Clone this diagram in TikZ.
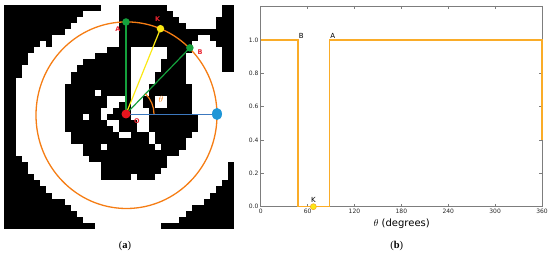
\documentclass[tikz,border=0pt]{standalone}
\usepackage{fontspec}
\setmainfont{Liberation Serif}
\setsansfont{DejaVu Sans}
\usetikzlibrary{shapes.geometric}

\definecolor{ringorange}{RGB}{245,125,20}
\definecolor{plotorange}{RGB}{250,172,40}
\definecolor{dotgreen}{RGB}{20,160,60}
\definecolor{lineyellow}{RGB}{250,232,20}
\definecolor{dotred}{RGB}{232,20,30}
\definecolor{dotblue}{RGB}{30,150,215}
\definecolor{lineblue}{RGB}{60,120,190}
\definecolor{labelred}{RGB}{232,36,48}
\definecolor{axisgray}{RGB}{125,125,125}

\tikzset{
  imgdot/.style={circle, inner sep=0pt, minimum size=7.5pt},
  imglabel/.style={text=labelred, font=\sffamily\bfseries\fontsize{6.5}{7}\selectfont, inner sep=0pt},
  ticklab/.style={font=\sffamily\fontsize{6}{7}\selectfont, inner sep=0.5pt, text=black!85},
  plotlab/.style={font=\sffamily\fontsize{7}{8}\selectfont, inner sep=0.8pt}
}

\begin{document}
\begin{tikzpicture}[x=1pt,y=1pt]
\useasboundingbox (0,0) rectangle (550,257);
\begin{scope}[shift={(4,252)},x=6.05pt,y=-6.05pt]
\foreach \r/\a/\b in {0/0/15,0/19/26,0/36/37, 1/0/12,1/19/27,1/36/37, 2/0/11,2/19/28,2/35/37,
  3/0/10,3/19/29,3/35/37, 4/0/9,4/19/37, 5/0/7,5/19/31,5/34/37, 6/0/5,6/7/7,6/19/30,6/35/37,
  7/0/4,7/17/20,7/27/30,7/36/37, 8/0/3,8/15/20,8/27/29,8/36/37, 9/0/3,9/13/20,9/26/29,9/36/37,
  10/0/2,10/12/20,10/26/29,10/36/37, 11/0/2,11/11/20,11/25/29, 12/0/1,12/11/20,12/25/29,
  13/0/1,13/10/20,13/24/30, 14/0/1,14/10/14,14/16/20,14/24/30,
  15/0/1,15/10/16,15/20/20,15/23/24,15/27/30, 16/0/1,16/10/16,16/19/20,16/23/24,16/27/30,
  17/0/1,17/10/15,17/18/20,17/24/30, 18/0/1,18/10/12,18/14/15,18/17/20,18/24/31,
  19/0/1,19/10/16,19/19/21,19/24/31, 20/0/1,20/10/17,20/19/21,20/24/31,
  21/0/1,21/11/18,21/21/23,21/25/30, 22/0/1,22/11/23,22/25/29, 23/0/1,23/13/15,23/17/24,23/26/29,
  24/0/1,24/13/28, 25/0/2,25/14/26, 26/0/3,26/16/26,26/37/37, 27/0/3,27/16/25,27/37/37,
  28/0/4,28/16/20,28/22/24,28/37/37, 29/0/5,29/36/37, 30/0/6,30/35/37, 31/0/7,31/34/37,
  32/0/9,32/33/37, 33/0/10,33/31/37, 34/0/11,34/30/37, 35/0/12,35/29/37, 36/0/14,36/26/37}
  \fill (\a,\r) rectangle (\b+1,\r+1);
\end{scope}

\coordinate (O) at (126,143);
\path (O) ++(90:92) coordinate (A);
\path (O) ++(68:92) coordinate (K);
\path (O) ++(46:92) coordinate (B);
\path (O) ++(0:91) coordinate (P);
\draw[ringorange, line width=1.3pt] (126.5,141.8) ellipse [x radius=90.5, y radius=93.3];
\draw[lineblue, line width=0.8pt] (O) -- (P);
\draw[dotgreen, line width=1.2pt] (O) -- (A);
\draw[dotgreen, line width=1.2pt] (O) -- (B);
\draw[lineyellow, line width=1.2pt] (O) -- (K);
\draw[ringorange, line width=1.2pt] (O) ++(0:28) arc[start angle=0, end angle=46, radius=28];
\node[imgdot, fill=dotgreen] (Adot) at (A) {};
\node[imgdot, fill=dotgreen] (Bdot) at (B) {};
\node[imgdot, fill=lineyellow] (Kdot) at (K) {};
\node[imgdot, fill=dotred, minimum size=9pt] (Odot) at (O) {};
\node[ellipse, fill=dotblue, inner sep=0pt, minimum width=10pt, minimum height=12pt] (Pdot) at (P) {};
\node[imglabel] (Alab) at (118,228) {A};
\node[imglabel] (Klab) at (157.7,238) {K};
\node[imglabel] (Blab) at (200,205) {B};
\node[imglabel] (Olab) at (137,136) {O};
\node[text=ringorange, font=\fontsize{9}{10}\selectfont, inner sep=0pt] (thlab) at (161,158) {$\theta$};
\node[font=\fontsize{10.5}{12}\selectfont] (capa) at (125,11) {(\textbf{a})};

\begin{scope}[shift={(260.7,50.3)},x=0.7814pt,y=166.7pt]
\draw[axisgray, line width=0.8pt] (0,0) rectangle (360,1.204);
\foreach \t in {0,60,...,360} {
  \draw[axisgray, line width=0.5pt] (\t,0) -- ++(0pt,3pt);
  \draw[axisgray, line width=0.5pt] (\t,1.204) -- ++(0pt,-3pt);
  \node[ticklab, anchor=north] (xt\t) at ([yshift=-1.5pt]\t,0) {\t};
}
\foreach \v/\n in {0.0/0,0.2/2,0.4/4,0.6/6,0.8/8,1.0/10} {
  \draw[axisgray, line width=0.5pt] (0,\v) -- ++(3pt,0pt);
  \draw[axisgray, line width=0.5pt] (360,\v) -- ++(-3pt,0pt);
  \node[ticklab, anchor=east] (yt\n) at ([xshift=-1.5pt]0,\v) {\v};
}
\draw[plotorange, line width=1.5pt] (0,1) -- (47.5,1) -- (47.5,0) -- (88,0) -- (88,1) -- (360,1) -- (360,0.4);
\node[circle, fill=lineyellow, draw=plotorange, line width=0.6pt, inner sep=0pt, minimum size=6pt] (Kpt) at (67.4,0) {};
\node[plotlab, anchor=south west] (Bpl) at (47.5,1) {B};
\node[plotlab, anchor=south west] (Apl) at (88,1) {A};
\node[plotlab, anchor=south] (Kpl) at ([yshift=3.5pt]67.4,0) {K};
\node[font=\sffamily\fontsize{10}{12}\selectfont] (xlab) at (180.4,-0.0996) {$\theta$ (degrees)};
\end{scope}
\node[font=\fontsize{10.5}{12}\selectfont] (capb) at (396.7,11) {(\textbf{b})};
\end{tikzpicture}
\end{document}
